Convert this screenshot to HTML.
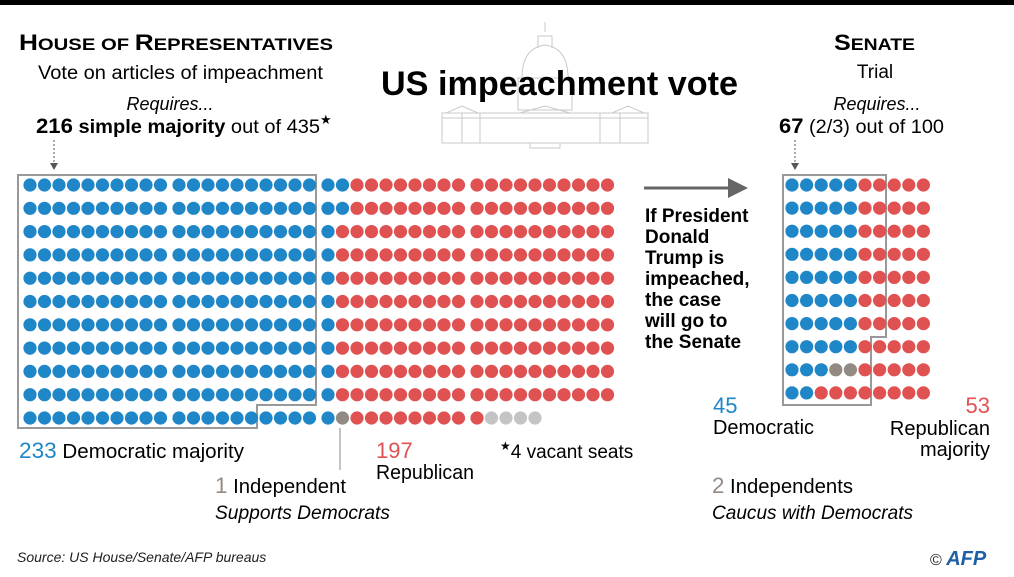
<!DOCTYPE html>
<html><head><meta charset="utf-8"><style>
html,body{margin:0;padding:0;background:#fff;}
svg{display:block;font-family:"Liberation Sans",sans-serif;}
</style></head><body>
<svg id="chart" width="1014" height="577" viewBox="0 0 1014 577">
<rect x="0" y="0" width="1014" height="5" fill="#000"/>
<g stroke="#c9c9c9" fill="none" stroke-width="1">
<path d="M545 22 L545 32 M538 48 L538 36 L552 36 L552 48 M522 78 Q522 48 545 45 Q568 48 568 78 Z M518 78 L572 78 L572 110 L518 110 Z"/>
<path d="M442 113 L648 113 L648 143 L442 143 Z M442 118 L648 118 M462 113 L462 143 M480 113 L480 143 M600 113 L600 143 M620 113 L620 143 M446 113 L462 106 L478 113 M520 113 L545 106 L570 113 M612 113 L628 106 L644 113 M530 143 L530 148 L560 148 L560 143"/>
</g>
<text x="19" y="50" font-weight="bold" font-size="22" textLength="314" lengthAdjust="spacingAndGlyphs">H<tspan font-size="17">OUSE OF </tspan>R<tspan font-size="17">EPRESENTATIVES</tspan></text>
<text x="38" y="79" font-size="19" textLength="285" lengthAdjust="spacingAndGlyphs">Vote on articles of impeachment</text>
<text x="170" y="110" font-size="18" font-style="italic" text-anchor="middle">Requires...</text>
<text x="36" y="133" font-size="19" textLength="284" lengthAdjust="spacingAndGlyphs"><tspan font-weight="bold" font-size="21">216</tspan> <tspan font-weight="bold">simple majority</tspan> out of 435</text>
<text x="320" y="124" font-size="13">★</text>
<line x1="54" y1="140" x2="54" y2="163" stroke="#555" stroke-dasharray="2,2"/>
<path d="M50 163 L58 163 L54 170 Z" fill="#555"/>
<text x="381" y="95" font-size="34" font-weight="bold" textLength="357" lengthAdjust="spacingAndGlyphs">US impeachment vote</text>
<text x="834" y="50" font-weight="bold" font-size="22" textLength="81" lengthAdjust="spacingAndGlyphs">S<tspan font-size="17">ENATE</tspan></text>
<text x="875" y="78" font-size="19" text-anchor="middle">Trial</text>
<text x="877" y="110" font-size="18" font-style="italic" text-anchor="middle">Requires...</text>
<text x="779" y="133" font-size="19" textLength="165" lengthAdjust="spacingAndGlyphs"><tspan font-weight="bold" font-size="21">67</tspan> (2/3) out of 100</text>
<line x1="795" y1="140" x2="795" y2="163" stroke="#555" stroke-dasharray="2,2"/>
<path d="M791 163 L799 163 L795 170 Z" fill="#555"/>
<line x1="644" y1="188" x2="730" y2="188" stroke="#666" stroke-width="3"/>
<path d="M728 178 L748 188 L728 198 Z" fill="#666"/>
<g font-size="19" font-weight="bold">
<text x="645" y="222">If President</text><text x="645" y="243">Donald</text><text x="645" y="264">Trump is</text><text x="645" y="285">impeached,</text><text x="645" y="306">the case</text><text x="645" y="327">will go to</text><text x="645" y="348">the Senate</text>
</g>
<path d="M18 175 L316 175 L316 405 L257 405 L257 428 L18 428 Z" fill="none" stroke="#999" stroke-width="2"/>
<path d="M783 175 L886 175 L886 337 L871 337 L871 405 L783 405 Z" fill="none" stroke="#999" stroke-width="2"/>
<g id="house"></g>
<g id="senate"></g>
<line x1="340" y1="428" x2="340" y2="470" stroke="#888"/>
<text x="19" y="458" font-size="20" textLength="225" lengthAdjust="spacingAndGlyphs"><tspan fill="#1f86c8" font-size="22">233</tspan> Democratic majority</text>
<text x="376" y="458" font-size="22" fill="#e05252">197</text>
<text x="376" y="479" font-size="20" textLength="98" lengthAdjust="spacingAndGlyphs">Republican</text>
<text x="500" y="458" font-size="19"><tspan font-size="12" dy="-8">★</tspan><tspan dy="8">4 vacant seats</tspan></text>
<text x="215" y="493" font-size="20" textLength="131" lengthAdjust="spacingAndGlyphs"><tspan fill="#948a84" font-size="22">1</tspan> Independent</text>
<text x="215" y="519" font-size="19" font-style="italic" textLength="175" lengthAdjust="spacingAndGlyphs">Supports Democrats</text>
<text x="713" y="413" font-size="22" fill="#1f86c8">45</text>
<text x="713" y="434" font-size="20" textLength="101" lengthAdjust="spacingAndGlyphs">Democratic</text>
<text x="990" y="413" font-size="22" fill="#e05252" text-anchor="end">53</text>
<text x="990" y="435" font-size="20" text-anchor="end">Republican</text>
<text x="990" y="456" font-size="20" text-anchor="end">majority</text>
<text x="712" y="493" font-size="20" textLength="141" lengthAdjust="spacingAndGlyphs"><tspan fill="#948a84" font-size="22">2</tspan> Independents</text>
<text x="712" y="519" font-size="19" font-style="italic" textLength="201" lengthAdjust="spacingAndGlyphs">Caucus with Democrats</text>
<text x="17" y="562" font-size="14" font-style="italic" fill="#222">Source: US House/Senate/AFP bureaus</text>
<text x="930" y="565" font-size="16" fill="#222">© <tspan font-weight="bold" font-style="italic" fill="#1f5fa8" font-size="20">AFP</tspan></text>
</svg>
<script>
const houseCounts = [233, 1, 197, 4];      // dem, independent, rep, vacant
const senateCounts = [45, 2, 53];           // dem, independent, rep
const colors = ["#1f86c8", "#948a84", "#e05252", "#c4c4c4"];
const NS = "http://www.w3.org/2000/svg";
const hx = c => 30 + c * 14.5 + Math.floor(c / 10) * 4;
const hy = r => 185 + r * 23.3;
const sx = c => 792 + c * 14.6;
const sy = r => 185 + r * 23.1;
function dot(g, x, y, col) {
  const el = document.createElementNS(NS, "circle");
  el.setAttribute("cx", x); el.setAttribute("cy", y); el.setAttribute("r", 6.6); el.setAttribute("fill", col);
  
  
  g.appendChild(el);
}
(function(){
  const R = 11, C = 40, grid = {};
  let n = 0;
  for (let c = 0; c < C && n < houseCounts[0]; c++)
    for (let r = 0; r < R && n < houseCounts[0]; r++) { grid[c+","+r] = 0; n++; }
  let c = 0; while (grid[c+","+(R-1)] !== undefined) c++;
  for (let i = 0; i < houseCounts[1]; i++) { grid[c+","+(R-1)] = 1; c++; }
  let rep = houseCounts[2];
  for (let r = 0; r < R - 1 && rep > 0; r++)
    for (let cc = 0; cc < C && rep > 0; cc++) if (grid[cc+","+r] === undefined) { grid[cc+","+r] = 2; rep--; }
  for (; rep > 0 && c < C; c++) { grid[c+","+(R-1)] = 2; rep--; }
  for (let i = 0; i < houseCounts[3] && c < C; i++, c++) grid[c+","+(R-1)] = 3;
  const g = document.getElementById("house");
  for (const k in grid) { const [cc, r] = k.split(",").map(Number); dot(g, hx(cc), hy(r), colors[grid[k]]); }
})();
(function(){
  const g = document.getElementById("senate"), grid = {};
  const ind = [[3,8],[4,8]];
  for (let i = 0; i < senateCounts[1] && i < ind.length; i++) grid[ind[i][0]+","+ind[i][1]] = 1;
  let d = senateCounts[0];
  for (let r = 0; r < 10 && d > 0; r++) for (let c = 0; c < 5 && d > 0; c++) if (grid[c+","+r] === undefined) { grid[c+","+r] = 0; d--; }
  let rp = senateCounts[2];
  for (let r = 0; r < 10; r++) for (let c = 0; c < 10; c++) if (grid[c+","+r] === undefined && rp > 0) { grid[c+","+r] = 2; rp--; }
  for (const k in grid) { const [c, r] = k.split(",").map(Number); dot(g, sx(c), sy(r), colors[grid[k]]); }
})();
</script>
</body></html>
